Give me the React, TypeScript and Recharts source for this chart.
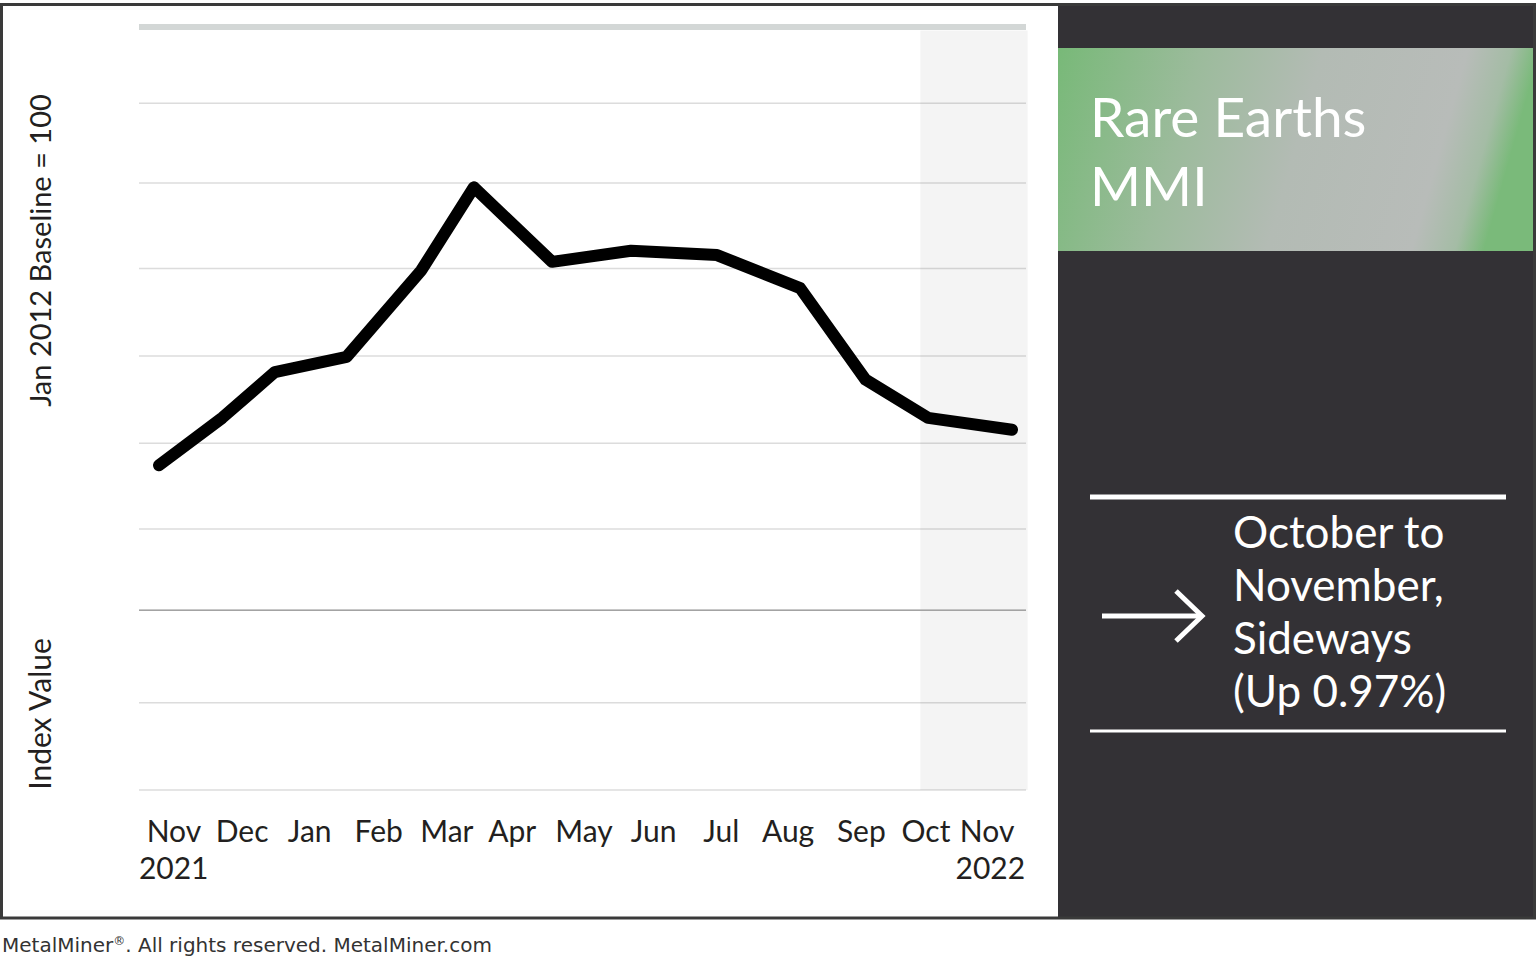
import React from 'react';
import {
  LineChart,
  Line,
  XAxis,
  YAxis,
  CartesianGrid,
  ReferenceArea,
  ReferenceLine,
} from 'recharts';

// --- data ---
// month labels along the bottom, and the year printed under the first / last one
const months = ['Nov', 'Dec', 'Jan', 'Feb', 'Mar', 'Apr', 'May', 'Jun', 'Jul', 'Aug', 'Sep', 'Oct', 'Nov'];
const years = ['2021', '', '', '', '', '', '', '', '', '', '', '', '2022'];
// where each month label sits on the month axis (0 = first reading, 12 = last)
const labelPos = [0.21, 1.17, 2.12, 3.09, 4.05, 4.97, 5.98, 6.96, 7.91, 8.85, 9.88, 10.79, 11.65];
// where each reading sits on the same axis, as drawn
const pointPos = [0, 0.89, 1.63, 2.64, 3.69, 4.43, 5.53, 6.64, 7.85, 9.02, 9.94, 10.82, 12];
// index value of each reading (arbitrary units, no scale is printed)
const mmiValues = [38.3, 43.9, 49.3, 51.1, 61.3, 71.1, 62.3, 63.6, 63.1, 59.2, 48.4, 43.9, 42.5];
// horizontal gridlines
const gridTicks = [0, 10.3, 21.2, 30.8, 40.9, 51.2, 61.5, 71.6, 81.0, 90];
// Oct -> Nov highlighted band
const shadeFrom = 10.71;
const shadeTo = 12.22;

const chartData = pointPos.map((pos, i) => ({ pos, value: mmiValues[i], month: months[i] }));

const FONT = 'Lato, "Open Sans", sans-serif';

// month + year tick
const MonthTick = (props: any) => {
  const { x, y, payload } = props;
  const i = labelPos.indexOf(payload.value);
  if (i < 0) return null;
  const last = i === months.length - 1;
  return (
    <g>
      <text x={x} y={y + 44} textAnchor="middle" fontFamily={FONT} fontSize={30} fill="#231f20">
        {months[i]}
      </text>
      {years[i] && (
        <text
          x={last ? x + 38 : x - 35}
          y={y + 81}
          textAnchor={last ? 'end' : 'start'}
          fontFamily={FONT}
          fontSize={30}
          fill="#231f20"
        >
          {years[i]}
        </text>
      )}
    </g>
  );
};

export default function App() {
  return (
    <div
      style={{
        position: 'absolute',
        left: 0,
        top: 0,
        width: 1536,
        height: 959,
        background: '#fff',
        overflow: 'hidden',
      }}
    >
      <div style={{ position: 'absolute', left: 0, top: 0 }}>
        <LineChart
          width={1058}
          height={918}
          data={chartData}
          margin={{ top: 27, right: 32, left: 139, bottom: 68 }}
        >
          <CartesianGrid vertical={false} stroke="#dcdcdc" strokeWidth={1.5} />
          <ReferenceArea
            x1={shadeFrom}
            x2={shadeTo}
            y1={0}
            y2={89.6}
            ifOverflow="visible"
            fill="#000"
            fillOpacity={0.045}
            stroke="none"
          />
          <XAxis
            dataKey="pos"
            type="number"
            domain={[0, 12]}
            ticks={labelPos}
            interval={0}
            padding={{ left: 20, right: 14 }}
            axisLine={false}
            tickLine={false}
            height={60}
            tick={<MonthTick />}
          />
          <YAxis hide type="number" domain={[0, 90]} ticks={gridTicks} />
          <ReferenceLine y={90} stroke="#d3d7d6" strokeWidth={6} />
          <ReferenceLine y={21.2} stroke="#a3a3a3" strokeWidth={1.5} />
          <Line
            type="linear"
            dataKey="value"
            stroke="#000"
            strokeWidth={12}
            strokeLinecap="round"
            strokeLinejoin="round"
            dot={false}
            activeDot={false}
            isAnimationActive={false}
          />
        </LineChart>
      </div>

      <svg
        width={1536}
        height={959}
        style={{ position: 'absolute', left: 0, top: 0, pointerEvents: 'none' }}
      >
        <defs>
          <linearGradient id="mmiGreen" x1="0" y1="0" x2="1" y2="0.12">
            <stop offset="0" stopColor="#78b978" />
            <stop offset="0.3" stopColor="#9cbb9c" />
            <stop offset="0.55" stopColor="#b3bbb4" />
            <stop offset="0.85" stopColor="#b8bcb9" />
            <stop offset="0.94" stopColor="#a4bca5" />
            <stop offset="1" stopColor="#7aba7a" />
          </linearGradient>
        </defs>

        {/* axis titles */}
        <text
          transform="translate(51,250.5) rotate(-90)"
          textAnchor="middle"
          fontFamily={FONT}
          fontSize={29}
          fill="#231f20"
        >
          Jan 2012 Baseline = 100
        </text>
        <text
          transform="translate(51,714) rotate(-90)"
          textAnchor="middle"
          fontFamily={FONT}
          fontSize={30}
          fill="#231f20"
        >
          Index Value
        </text>

        {/* right hand panel */}
        <rect x={1058} y={5} width={477} height={913} fill="#333135" />
        <rect x={1058} y={48} width={476} height={203} fill="url(#mmiGreen)" />
        <text x={1090} y={137} fontFamily={FONT} fontSize={55} fill="#fff">
          Rare Earths
        </text>
        <text x={1090} y={206} fontFamily={FONT} fontSize={55} fill="#fff">
          MMI
        </text>

        <line x1={1090} x2={1506} y1={497} y2={497} stroke="#fff" strokeWidth={5} />
        <line x1={1102} x2={1200} y1={616} y2={616} stroke="#fff" strokeWidth={5} />
        <polyline points="1176,591 1202,616 1176,641" fill="none" stroke="#fff" strokeWidth={5} />
        {['October to', 'November,', 'Sideways', '(Up 0.97%)'].map((t, i) => (
          <text key={t} x={1233} y={548 + i * 53} fontFamily={FONT} fontSize={44} fill="#fff">
            {t}
          </text>
        ))}
        <line x1={1090} x2={1506} y1={731} y2={731} stroke="#fff" strokeWidth={3} />

        {/* outer frame */}
        <rect x={1.5} y={4.5} width={1533} height={913.5} fill="none" stroke="#3a3a3a" strokeWidth={3} />

        {/* footer */}
        <text x={2} y={952} fontFamily='"DejaVu Sans", Verdana, sans-serif' fontSize={20} fill="#333">
          MetalMiner<tspan fontSize={12} dy={-7}>®</tspan>
          <tspan dy={7}>. All rights reserved. MetalMiner.com</tspan>
        </text>
      </svg>
    </div>
  );
}
